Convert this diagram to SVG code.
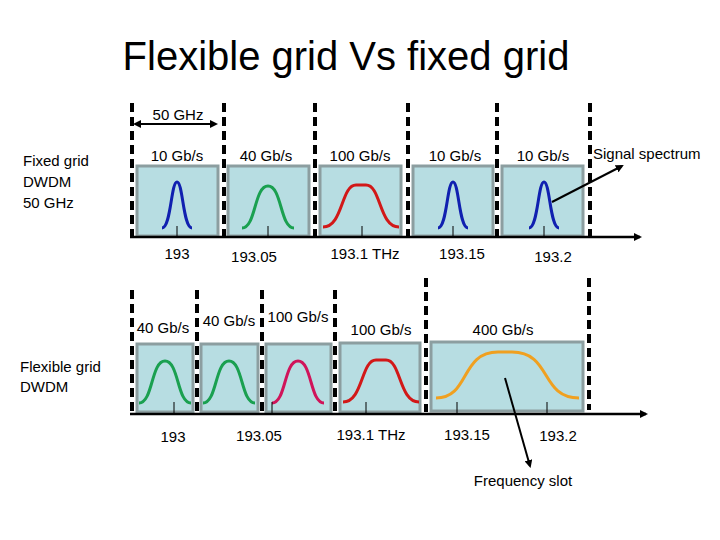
<svg xmlns="http://www.w3.org/2000/svg" width="720" height="540" viewBox="0 0 720 540">
<defs>
<style>
text{font-family:"Liberation Sans",Arial,sans-serif;fill:#000}
.l{font-size:15px;text-anchor:middle}
.dash{stroke:#000;stroke-width:4;stroke-dasharray:9,5}
.box{fill:#b7dde2;stroke:#8c9ea0;stroke-width:3}
.c{fill:none;stroke-width:3}
.ax{stroke:#000;stroke-width:2.5}
.tk{stroke:#000;stroke-width:1}
</style>
<marker id="ah" markerWidth="8" markerHeight="8" refX="6" refY="4" orient="auto" markerUnits="userSpaceOnUse"><path d="M0,0 L8,4 L0,8 z" fill="#000"/></marker>
<marker id="ah2" markerWidth="8" markerHeight="8" refX="2" refY="4" orient="auto-start-reverse" markerUnits="userSpaceOnUse"><path d="M0,0 L8,4 L0,8 z" fill="#000"/></marker>
<path id="nb" d="M-15,0 C-6,0 -6,-46 0,-46 C6,-46 6,0 15,0"/>
<path id="md" d="M-26,0 C-12,0 -14,-42 0,-42 C14,-42 12,0 26,0"/>
<path id="wd" d="M-38,0 C-18,0 -20,-42 -5,-42 L5,-42 C20,-42 18,0 38,0"/>
</defs>
<text x="346" y="70" font-size="40" text-anchor="middle">Flexible grid Vs fixed grid</text>
<g id="left-labels">
<text x="23" y="166" font-size="15">Fixed grid</text>
<text x="23" y="187" font-size="15">DWDM</text>
<text x="23" y="208" font-size="15">50 GHz</text>
<text x="20" y="372" font-size="15">Flexible grid</text>
<text x="20" y="392" font-size="15">DWDM</text>
</g>
<g id="fixed-grid">
<g class="dash"><line x1="132" y1="103" x2="132" y2="237"/><line x1="224" y1="103" x2="224" y2="237"/><line x1="315" y1="103" x2="315" y2="237"/><line x1="408" y1="103" x2="408" y2="237"/><line x1="497" y1="103" x2="497" y2="237"/><line x1="590" y1="103" x2="590" y2="237"/></g>
<rect class="box" x="137" y="166" width="81" height="70"/>
<rect class="box" x="228" y="166" width="81" height="70"/>
<rect class="box" x="320" y="166" width="81" height="70"/>
<rect class="box" x="413" y="166" width="80" height="70"/>
<rect class="box" x="502" y="166" width="81" height="70"/>
<use href="#nb" transform="translate(177,228)" class="c" stroke="#1020b0"/>
<use href="#md" transform="translate(268,228)" class="c" stroke="#1aa050"/>
<use href="#wd" transform="translate(361,227)" class="c" stroke="#d21818"/>
<use href="#nb" transform="translate(453,228)" class="c" stroke="#1020b0"/>
<use href="#nb" transform="translate(544,228)" class="c" stroke="#1020b0"/>
<g class="tk"><line x1="177" y1="226" x2="177" y2="237"/><line x1="268" y1="226" x2="268" y2="237"/><line x1="362" y1="226" x2="362" y2="237"/><line x1="453" y1="226" x2="453" y2="237"/><line x1="544" y1="226" x2="544" y2="237"/></g>
<line class="ax" x1="130" y1="237" x2="640" y2="237" marker-end="url(#ah)"/>
<text class="l" x="177" y="161">10 Gb/s</text>
<text class="l" x="266" y="161">40 Gb/s</text>
<text class="l" x="360" y="161">100 Gb/s</text>
<text class="l" x="455" y="161">10 Gb/s</text>
<text class="l" x="543" y="161">10 Gb/s</text>
<text class="l" x="177" y="259">193</text>
<text class="l" x="254" y="262">193.05</text>
<text class="l" x="365" y="259">193.1 THz</text>
<text class="l" x="462" y="259">193.15</text>
<text class="l" x="553" y="262">193.2</text>
<text class="l" x="178" y="120">50 GHz</text>
<line x1="139" y1="124" x2="216" y2="124" stroke="#000" stroke-width="2" marker-start="url(#ah2)" marker-end="url(#ah)"/>
</g>
<g id="flex-grid">
<g class="dash"><line x1="132" y1="290" x2="132" y2="412"/><line x1="197" y1="290" x2="197" y2="412"/><line x1="262" y1="290" x2="262" y2="412"/><line x1="335" y1="290" x2="335" y2="412"/><line x1="426" y1="278" x2="426" y2="412"/><line x1="589" y1="278" x2="589" y2="410"/></g>
<rect class="box" x="137" y="344" width="56" height="68"/>
<rect class="box" x="201" y="344" width="57" height="68"/>
<rect class="box" x="266" y="344" width="65" height="68"/>
<rect class="box" x="340" y="343" width="80" height="69"/>
<rect class="box" x="431" y="342" width="152" height="69"/>
<use href="#md" transform="translate(165,403)" class="c" stroke="#1aa050"/>
<use href="#md" transform="translate(229,403)" class="c" stroke="#1aa050"/>
<use href="#md" transform="translate(298,403)" class="c" stroke="#d0145a"/>
<use href="#wd" transform="translate(381,402)" class="c" stroke="#d21818"/>
<path class="c" stroke="#f0a020" d="M436,398 C470,398 460,352 498,352 L512,352 C552,352 540,398 579,398"/>
<g class="tk"><line x1="174" y1="402" x2="174" y2="414"/><line x1="272" y1="402" x2="272" y2="414"/><line x1="366" y1="402" x2="366" y2="414"/><line x1="457" y1="402" x2="457" y2="414"/><line x1="547" y1="402" x2="547" y2="414"/></g>
<line class="ax" x1="130" y1="414" x2="646" y2="414" marker-end="url(#ah)"/>
<text class="l" x="163" y="333">40 Gb/s</text>
<text class="l" x="229" y="326">40 Gb/s</text>
<text class="l" x="298" y="322">100 Gb/s</text>
<text class="l" x="381" y="335">100 Gb/s</text>
<text class="l" x="503" y="335">400 Gb/s</text>
<text class="l" x="173" y="442">193</text>
<text class="l" x="259" y="441">193.05</text>
<text class="l" x="371" y="440">193.1 THz</text>
<text class="l" x="467" y="440">193.15</text>
<text class="l" x="558" y="441">193.2</text>
</g>
<g id="connectors">
<line x1="552" y1="202" x2="622" y2="166" stroke="#000" stroke-width="2" marker-end="url(#ah)"/>
<line x1="505" y1="378" x2="530" y2="466" stroke="#000" stroke-width="2" marker-end="url(#ah)"/>
</g>
<text x="593" y="159" font-size="15">Signal spectrum</text>
<text x="523" y="486" font-size="15" text-anchor="middle">Frequency slot</text>
</svg>
